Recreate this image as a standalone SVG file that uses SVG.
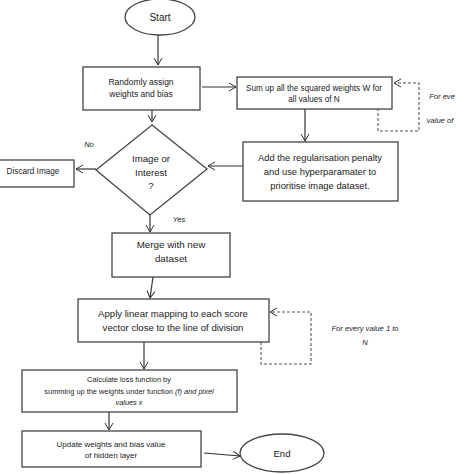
<svg xmlns="http://www.w3.org/2000/svg" width="474" height="474" viewBox="0 0 474 474">
<defs>
<marker id="ah" markerWidth="10" markerHeight="10" refX="9" refY="5" orient="auto" markerUnits="userSpaceOnUse">
<polyline points="2,1 9,5 2,9" fill="none" stroke="#333" stroke-width="1"/>
</marker>
</defs>
<style>
.box{fill:#fff;stroke:#444;stroke-width:1.3}
.ln{fill:none;stroke:#333;stroke-width:1.2}
.dash{fill:none;stroke:#555;stroke-width:1.1;stroke-dasharray:3,2}
text{font-family:"Liberation Sans",Arial,sans-serif;fill:#222;text-anchor:middle}
.it{font-style:italic}
</style>
<rect width="474" height="474" fill="#fff"/>
<g id="connectors">
<line class="ln" x1="158" y1="35" x2="158" y2="65" marker-end="url(#ah)"/>
<line class="ln" x1="202" y1="87" x2="236" y2="87" marker-end="url(#ah)"/>
<line class="ln" x1="152" y1="110" x2="152" y2="122" marker-end="url(#ah)"/>
<line class="ln" x1="305" y1="109" x2="305" y2="141" marker-end="url(#ah)"/>
<line class="ln" x1="243" y1="166" x2="208" y2="166" marker-end="url(#ah)"/>
<line class="ln" x1="96" y1="169" x2="76" y2="169" marker-end="url(#ah)"/>
<line class="ln" x1="150" y1="215" x2="150" y2="232" marker-end="url(#ah)"/>
<line class="ln" x1="153" y1="277" x2="150" y2="298" marker-end="url(#ah)"/>
<line class="ln" x1="144" y1="342" x2="144" y2="369" marker-end="url(#ah)"/>
<line class="ln" x1="109" y1="412" x2="109" y2="430" marker-end="url(#ah)"/>
<line class="ln" x1="204" y1="453" x2="240" y2="456" marker-end="url(#ah)"/>
<polyline class="dash" points="378,108 378,131 419,131 419,83 394,83" marker-end="url(#ah)"/>
<polyline class="dash" points="261,342 261,364 311,364 311,312 270,312" marker-end="url(#ah)"/>
</g>
<g id="start">
<ellipse class="box" cx="160" cy="17" rx="35" ry="18"/>
<text x="160" y="21" font-size="10">Start</text>
</g>
<g id="randomly">
<rect class="box" x="83" y="67" width="117" height="43"/>
<text x="141" y="85" font-size="8.5">Randomly assign</text>
<text x="141" y="97" font-size="8.5">weights and bias</text>
</g>
<g id="sum">
<rect class="box" x="237" y="77" width="155" height="32"/>
<text x="314" y="91" font-size="8.2">Sum up all the squared weights W for</text>
<text x="314" y="102" font-size="8.2">all values of N</text>
</g>
<g id="add">
<rect class="box" x="243" y="142" width="155" height="59"/>
<text x="320" y="161" font-size="9.4">Add the regularisation penalty</text>
<text x="320" y="175" font-size="9.4">and use hyperparamater to</text>
<text x="320" y="189" font-size="9.4">prioritise image dataset.</text>
</g>
<g id="decision">
<polygon class="box" points="152,125 207,169 150,215 96,170"/>
<text x="151" y="162" font-size="9.6">Image or</text>
<text x="151" y="176" font-size="9.6">Interest</text>
<text x="151" y="189" font-size="9.6">?</text>
</g>
<g id="discard">
<rect class="box" x="-2" y="160" width="76" height="27"/>
<text x="33" y="174" font-size="8.2">Discard Image</text>
</g>
<g id="merge">
<rect class="box" x="112" y="233" width="118" height="44"/>
<text x="171" y="248" font-size="9.8">Merge with new</text>
<text x="171" y="262" font-size="9.8">dataset</text>
</g>
<g id="apply">
<rect class="box" x="78" y="299" width="191" height="43"/>
<text x="173" y="317" font-size="9.6">Apply linear mapping to each score</text>
<text x="173" y="331" font-size="9.6">vector close to the line of division</text>
</g>
<g id="calculate">
<rect class="box" x="22" y="370" width="215" height="42"/>
<text x="129" y="382" font-size="7.4">Calculate loss function by</text>
<text x="129" y="394" font-size="7.4">summing up the weights under function <tspan class="it">(f) and pixel</tspan></text>
<text x="129" y="405" font-size="7.4" class="it">values x</text>
</g>
<g id="update">
<rect class="box" x="22" y="431" width="179" height="36"/>
<text x="111" y="447" font-size="8">Update weights and bias value</text>
<text x="111" y="458" font-size="8">of hidden layer</text>
</g>
<g id="end">
<ellipse class="box" cx="282" cy="453" rx="42" ry="19"/>
<text x="282" y="457" font-size="9.6">End</text>
</g>
<g id="labels">
<text x="89" y="147" font-size="7.6" class="it">No</text>
<text x="179" y="222" font-size="7.6" class="it">Yes</text>
<text x="442" y="99" font-size="7.6" class="it" text-anchor="start">For eve</text>
<text x="440" y="123" font-size="7.6" class="it" text-anchor="start">value of</text>
<text x="365" y="331" font-size="7.6" class="it">For every value 1 to</text>
<text x="365" y="345" font-size="7.6" class="it">N</text>
</g>
</svg>
